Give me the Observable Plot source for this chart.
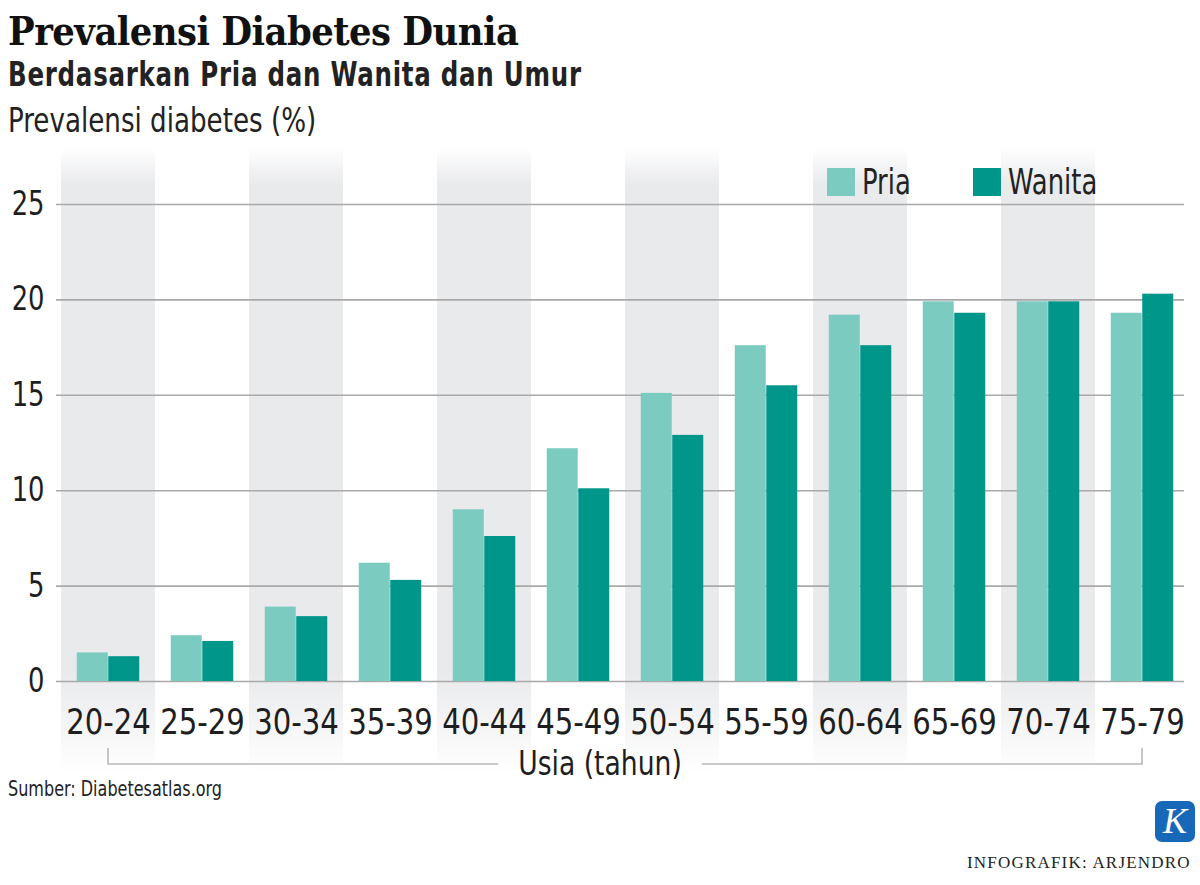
<!DOCTYPE html>
<html>
<head>
<meta charset="utf-8">
<script src="https://cdn.jsdelivr.net/npm/d3@7"></script>
<script src="https://cdn.jsdelivr.net/npm/@observablehq/plot@0.6"></script>
<style>
  html, body { margin: 0; padding: 0; background: #fff; }
  #wrap { position: relative; width: 1200px; height: 885px; overflow: hidden; background: #fff; }
  .abs { position: absolute; white-space: nowrap; line-height: 1; color: #1e1e1e; transform-origin: 0 0; }
  .narrow { font-family: "DejaVu Sans Condensed", "DejaVu Sans", sans-serif; }
  #chart { position: absolute; left: 0; top: 140px; }
</style>
</head>
<body>
<div id="wrap">
  <div id="chart"></div>
  <div class="abs" id="title" style="left:8px; top:12px; font-family:'DejaVu Serif', serif; font-weight:bold; font-size:39px; letter-spacing:-0.6px; color:#111; transform:scaleX(0.91);">Prevalensi Diabetes Dunia</div>
  <div class="abs narrow" id="subtitle" style="left:8px; top:58px; font-weight:bold; font-size:33px; letter-spacing:0.9px; color:#222; transform:scaleX(0.825);">Berdasarkan Pria dan Wanita dan Umur</div>
  <div class="abs narrow" id="ylabel" style="left:8px; top:103px; font-size:34px; color:#222; transform:scaleX(0.855);">Prevalensi diabetes (%)</div>
  <div id="legend"></div>
  <div class="abs narrow" id="source" style="left:8px; top:778px; font-size:22px; color:#222; transform:scaleX(0.81);">Sumber: Diabetesatlas.org</div>
  <div class="abs" id="logo" style="left:1155px; top:801px; width:40px; height:41px; border-radius:7px; background:#1768b8; color:#fff; font-family:'Liberation Serif', serif; font-style:italic; font-size:36px; text-align:center; line-height:41px;">K</div>
  <div class="abs" id="credit" style="left:967px; top:854px; font-family:'Liberation Serif', serif; font-size:17px; letter-spacing:1.2px; color:#222;">INFOGRAFIK: ARJENDRO</div>
</div>
<script>
// ---- data ----
const ages = ["20-24", "25-29", "30-34", "35-39", "40-44", "45-49", "50-54", "55-59", "60-64", "65-69", "70-74", "75-79"];
const series = ["Pria", "Wanita"];
const colors = ["#7ccbc0", "#00968a"];
const pria = [1.5, 2.4, 3.9, 6.2, 9.0, 12.2, 15.1, 17.6, 19.2, 19.9, 19.9, 19.3];
const wanita = [1.3, 2.1, 3.4, 5.3, 7.6, 10.1, 12.9, 15.5, 17.6, 19.3, 19.9, 20.3];
const yTicks = [0, 5, 10, 15, 20, 25];
const xTitle = "Usia (tahun)";

// ---- build table ----
const rows = ages.flatMap((age, i) => [
  {age, sex: series[0], value: pria[i]},
  {age, sex: series[1], value: wanita[i]}
]);

const W = 1200, H = 650, ML = 58, MR = 8, MT = 64, MB = 109;
const step = (W - ML - MR) / ages.length;

const chart = Plot.plot({
  width: W,
  height: H,
  marginTop: MT,
  marginBottom: MB,
  marginLeft: ML,
  marginRight: MR,
  x: {domain: ages, padding: 0},
  y: {domain: [0, 25]},
  style: {
    fontFamily: "'DejaVu Sans Condensed', 'DejaVu Sans', sans-serif",
    color: "#222",
    background: "transparent",
    overflow: "visible"
  },
  marks: [
    Plot.cell(ages.filter((d, i) => i % 2 === 0), {x: d => d, fill: "url(#bandGrad)", inset: 0, insetTop: -57, insetBottom: -92}),
    Plot.ruleY(yTicks, {stroke: "#a9a9a9", strokeWidth: 1.6, insetLeft: -2, insetRight: 8}),
    Plot.barY(rows.filter(d => d.sex === series[0]), {x: "age", y: "value", fill: colors[0], insetLeft: step / 6, insetRight: step / 2}),
    Plot.barY(rows.filter(d => d.sex === series[1]), {x: "age", y: "value", fill: colors[1], insetLeft: step / 2, insetRight: step / 6}),
    Plot.axisX({tickSize: 0, tickPadding: 27, fontSize: 36, label: null, fill: "#1e1e1e"}),
    Plot.axisY({ticks: yTicks, tickSize: 0, tickPadding: 14, fontSize: 33, label: null, tickFormat: d => String(d), fill: "#1e1e1e"})
  ]
});

// gradient for alternating background bands
d3.select(chart).insert("defs", ":first-child").html(`
  <linearGradient id="bandGrad" x1="0" y1="0" x2="0" y2="1">
    <stop offset="0" stop-color="#e9eaec" stop-opacity="0"/>
    <stop offset="0.06" stop-color="#e9eaec" stop-opacity="1"/>
    <stop offset="0.84" stop-color="#e9eaec" stop-opacity="1"/>
    <stop offset="1" stop-color="#e9eaec" stop-opacity="0"/>
  </linearGradient>`);

document.getElementById("chart").appendChild(chart);

// condense axis labels (reference uses a condensed face)
function condense(sel, ratio) {
  sel.each(function() {
    const len = this.getComputedTextLength();
    if (len > 0) {
      this.setAttribute("textLength", len * ratio);
      this.setAttribute("lengthAdjust", "spacingAndGlyphs");
    }
  });
}
const svg = d3.select(chart);
condense(svg.selectAll('g[aria-label="x-axis tick label"] text'), 0.9);
condense(svg.selectAll('g[aria-label="y-axis tick label"] text'), 0.87);

// bracket with x title
const xs = chart.scale("x"), ys = chart.scale("y");
const bw = xs.bandwidth;
const xa = xs.apply(ages[0]) + bw / 2;
const xb = xs.apply(ages[ages.length - 1]) + bw / 2;
const yLine = ys.apply(0) + 83;
const g = svg.append("g");
const label = g.append("text")
  .attr("x", W / 2).attr("y", ys.apply(0) + 94)
  .attr("text-anchor", "middle")
  .attr("font-size", 34)
  .attr("fill", "#1e1e1e")
  .text(xTitle);
condense(label, 0.87);
const bb = label.node().getBBox();
const gap = 20;
const path = `M${xa},${yLine - 16}V${yLine}H${bb.x - gap}M${bb.x + bb.width + gap},${yLine}H${xb}V${yLine - 16}`;
g.insert("path", "text").attr("d", path).attr("fill", "none").attr("stroke", "#b8b8b8").attr("stroke-width", 1.6);

// legend (positioned in the top-right of the plot area)
const legend = d3.select("#legend");
const legendLeft = [827, 973];
series.forEach((s, i) => {
  legend.append("div")
    .style("position", "absolute").style("left", legendLeft[i] + "px").style("top", "168px")
    .style("width", "28px").style("height", "28px").style("background", colors[i]);
  legend.append("div").attr("class", "abs narrow")
    .style("left", (legendLeft[i] + 35) + "px").style("top", "164px")
    .style("font-size", "36px").style("color", "#222")
    .style("transform", "scaleX(0.8)")
    .text(s);
});
</script>
</body>
</html>
